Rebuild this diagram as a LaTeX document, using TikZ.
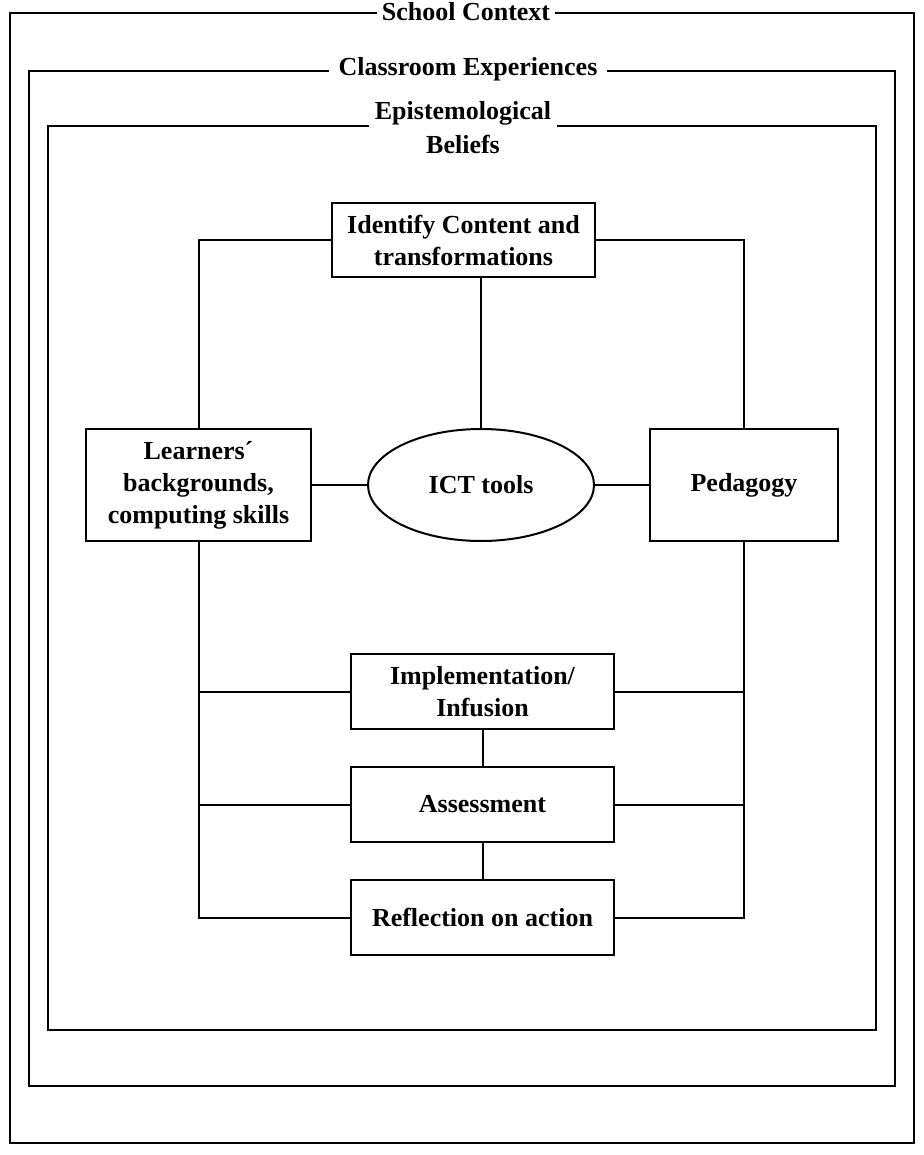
\documentclass[tikz,border=0pt]{standalone}
\usepackage{fontspec}
\setmainfont{Liberation Serif}
\usetikzlibrary{shapes.geometric}
\begin{document}
\begin{tikzpicture}[x=1pt,y=-1pt,
  font=\fontsize{26}{32}\selectfont\bfseries,
  box/.style={draw, rectangle, align=center, inner sep=2pt, line width=2pt},
  oval/.style={draw, ellipse, align=center, inner sep=0pt, line width=2pt},
  frame/.style={line width=2pt},
  frametitle/.style={fill=white, align=center, inner sep=6pt},
  link/.style={line width=2pt}]
\useasboundingbox (0,0) rectangle (923,1155);
% frames
\draw[frame] (10,13) rectangle (914,1143);
\draw[frame] (29,71) rectangle (895,1086);
\draw[frame] (48,126) rectangle (876,1030);
\node[frametitle, inner sep=5pt] (school) at (466,12) {School Context};
\node[frametitle, inner sep=10pt] (class) at (468,69) {Classroom Experiences};
\node[frametitle, inner sep=6pt, font=\fontsize{26}{34}\selectfont\bfseries] (epist) at (463,128) {Epistemological\\Beliefs};
% nodes
\node[box, minimum width=263pt, minimum height=74pt] (ident) at (463.5,240) {Identify Content and\\transformations};
\node[box, minimum width=225pt, minimum height=112pt] (learn) at (198.5,485) {Learners´\\backgrounds,\\computing skills};
\node[oval, minimum width=226pt, minimum height=112pt] (ict) at (481,485) {ICT tools};
\node[box, minimum width=188pt, minimum height=112pt] (ped) at (744,485) {\raisebox{4pt}{Pedagogy}};
\node[box, minimum width=263pt, minimum height=75pt] (impl) at (482.5,691.5) {Implementation/\\Infusion};
\node[box, minimum width=263pt, minimum height=75pt] (assess) at (482.5,804.5) {Assessment};
\node[box, minimum width=263pt, minimum height=75pt] (refl) at (482.5,917.5) {Reflection on action};
% connectors
\draw[link] (ident.west) -| (learn.north);
\draw[link] (ident.east) -| (ped.north);
\draw[link] (ict.north) -- (ict.north |- ident.south);
\draw[link] (learn.east) -- (ict.west);
\draw[link] (ict.east) -- (ped.west);
\draw[link] (learn.south) |- (refl.west);
\draw[link] (ped.south) |- (refl.east);
\draw[link] (impl.west) -- (impl.west -| learn.south);
\draw[link] (assess.west) -- (assess.west -| learn.south);
\draw[link] (impl.east) -- (impl.east -| ped.south);
\draw[link] (assess.east) -- (assess.east -| ped.south);
\draw[link] (impl.south) -- (assess.north);
\draw[link] (assess.south) -- (refl.north);
\end{tikzpicture}
\end{document}
